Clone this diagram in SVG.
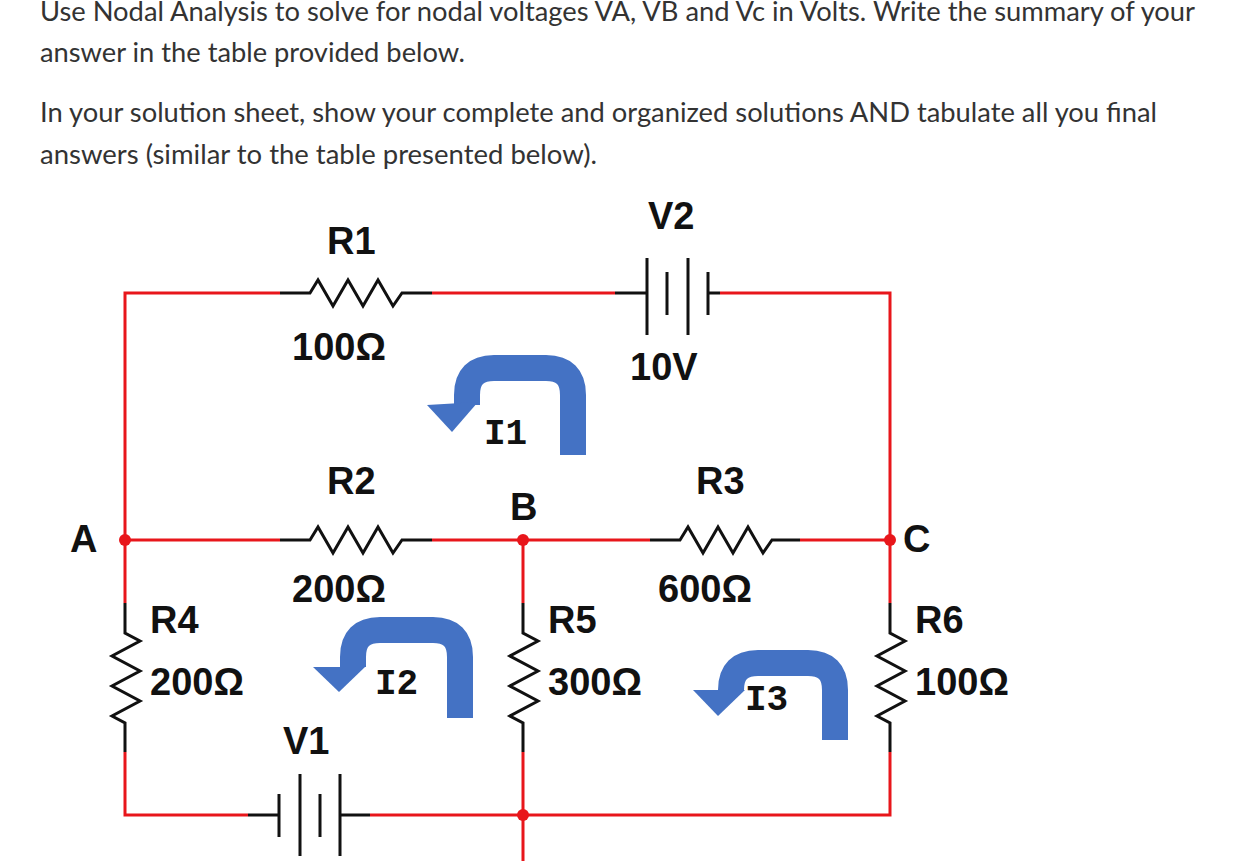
<svg xmlns="http://www.w3.org/2000/svg" width="1235" height="861" viewBox="0 0 1235 861">
<style>
.w{stroke:#e8161b;stroke-width:3;fill:none}
.k{stroke:#111;stroke-width:3;fill:none}
.t{font-family:"Liberation Sans",Arial,sans-serif;font-weight:bold;font-size:38px;fill:#111}
.i{font-family:"Liberation Mono","Courier New",monospace;font-weight:bold;font-size:36px;fill:#111}
.h{font-family:Lato,"Liberation Sans",sans-serif;font-size:26px;fill:#333}
.a{stroke:#4472c4;stroke-width:26;fill:none}
.ah{fill:#4472c4}
</style>
<rect width="1235" height="861" fill="#fff"/>
<g id="header">
<text class="h" x="40" y="21" textLength="1155" lengthAdjust="spacingAndGlyphs">Use Nodal Analysis to solve for nodal voltages VA, VB and Vc in Volts. Write the summary of your</text>
<text class="h" x="40" y="62" textLength="425" lengthAdjust="spacingAndGlyphs">answer in the table provided below.</text>
<text class="h" x="40" y="122" textLength="1117" lengthAdjust="spacingAndGlyphs">In your solution sheet, show your complete and organized solutions AND tabulate all you final</text>
<text class="h" x="40" y="164" textLength="557" lengthAdjust="spacingAndGlyphs">answers (similar to the table presented below).</text>
</g>
<g id="connectors">
<path class="w" d="M280,293 H125 V603 M125,752 V815 H248 M370,815 H890 V752 M890,603 V540 H800 M650,540 H432 M280,540 H125 M432,293 H615 M720,293 H890 V540 M523,540 V603 M523,752 V861"/>
</g>
<g id="R1"><path class="k" d="M280,293 H310 L318,280 L333,306 L348,280 L363,306 L378,280 L393,306 L402,293 H432"/><text class="t" x="327" y="254">R1</text><text class="t" x="292" y="360">100Ω</text></g>
<g id="R2"><path class="k" d="M280,540 H310 L318,527 L333,553 L348,527 L363,553 L378,527 L393,553 L402,540 H432"/><text class="t" x="327" y="494">R2</text><text class="t" x="292" y="602">200Ω</text></g>
<g id="R3"><path class="k" d="M650,540 H680 L688,527 L703,553 L718,527 L733,553 L748,527 L763,553 L772,540 H800"/><text class="t" x="696" y="494">R3</text><text class="t" x="658" y="602">600Ω</text></g>
<g id="R4"><path class="k" d="M125,603 V633 L140,641 L112,656 L140,671 L112,686 L140,701 L112,716 L125,723 V752"/><text class="t" x="150" y="633">R4</text><text class="t" x="150" y="695">200Ω</text></g>
<g id="R5"><path class="k" d="M523,603 V633 L538,641 L510,656 L538,671 L510,686 L538,701 L510,716 L523,723 V752"/><text class="t" x="548" y="633">R5</text><text class="t" x="548" y="695">300Ω</text></g>
<g id="R6"><path class="k" d="M890,603 V633 L905,641 L877,656 L905,671 L877,686 L905,701 L877,716 L890,723 V752"/><text class="t" x="915" y="633">R6</text><text class="t" x="915" y="695">100Ω</text></g>
<g id="V2"><path class="k" d="M615,293 H647 M647,258 V335 M667,272 V315 M688,258 V335 M708,272 V315 M708,293 H720"/><text class="t" x="648" y="229">V2</text><text class="t" x="630" y="380">10V</text></g>
<g id="V1"><path class="k" d="M248,815 H279 M279,794 V837 M300,774 V856 M320,794 V837 M340,774 V856 M340,815 H370"/><text class="t" x="283" y="754">V1</text></g>
<g id="nodes">
<circle cx="125" cy="540" r="6" fill="#e8161b"/><text class="t" x="70" y="552">A</text>
<circle cx="523" cy="540" r="6" fill="#e8161b"/><text class="t" x="510" y="520">B</text>
<circle cx="890" cy="540" r="6" fill="#e8161b"/><text class="t" x="903" y="552">C</text>
<circle cx="523" cy="815" r="6" fill="#e8161b"/>
</g>
<g id="I1"><path class="a" d="M573,455 V395 Q573,368 546,368 H494 Q467,368 467,395 V405"/><polygon class="ah" points="427,405 478,402 452,432"/><text class="i" x="484" y="444">I1</text></g>
<g id="I2"><path class="a" d="M460,718 V657 Q460,630 433,630 H380 Q353,630 353,657 V667"/><polygon class="ah" points="313,667 365,667 339,692"/><text class="i" x="375" y="694">I2</text></g>
<g id="I3"><path class="a" d="M835,740 V690 Q835,663 808,663 H758 Q731,663 731,690 V690"/><polygon class="ah" points="693,690 745,690 718,716"/><text class="i" x="745" y="710">I3</text></g>
</svg>
